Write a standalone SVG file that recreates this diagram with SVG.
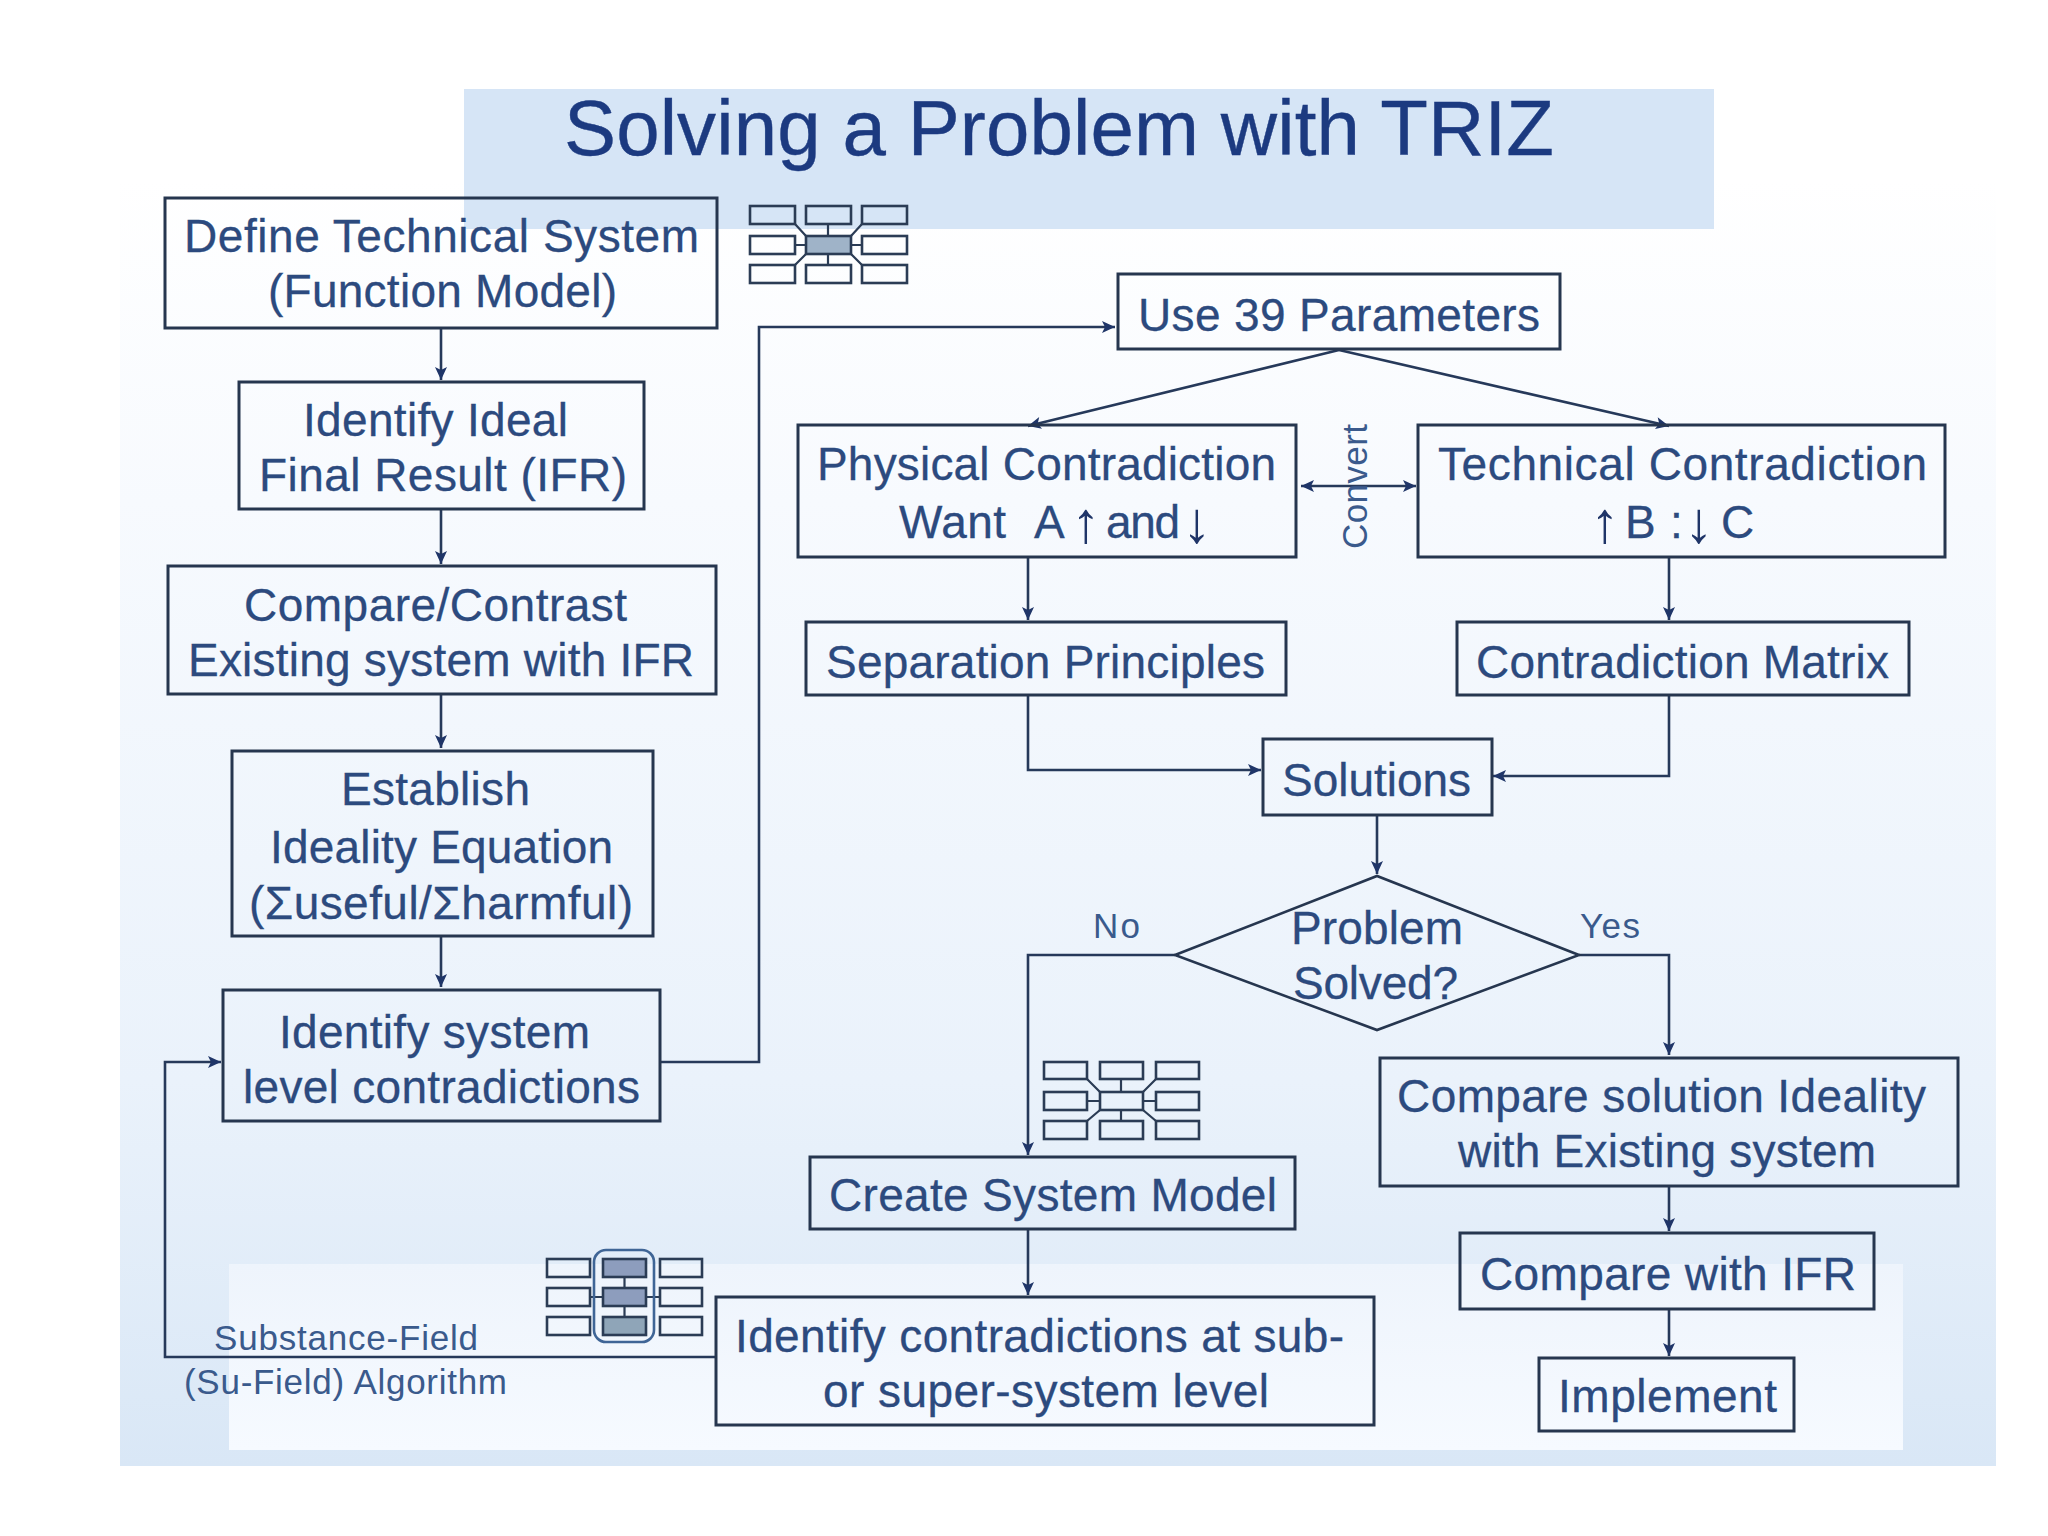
<svg xmlns="http://www.w3.org/2000/svg" width="2048" height="1536" viewBox="0 0 2048 1536">
<style>
.b{fill:none;stroke:#26364f;stroke-width:3}
.c{fill:none;stroke:#26395a;stroke-width:2.6}
.a{marker-end:url(#ah)}
.t{font-family:"Liberation Sans",Arial,sans-serif;font-size:46px;fill:#2c4a7e;stroke:#2c4a7e;stroke-width:.3}
.s{font-family:"Liberation Sans",Arial,sans-serif;font-size:35px;fill:#3a5a8c}
.ar{font-family:"Liberation Sans",Arial,sans-serif;font-size:58px;font-weight:bold;fill:#1f3568;text-anchor:middle}
.i rect{fill:none;stroke:#2b3c55;stroke-width:2.6}
.i path{fill:none;stroke:#2b3c55;stroke-width:2.2}
</style>
<defs>
<linearGradient id="p" x1="0" y1="0" x2="0" y2="1"><stop offset="0" stop-color="#ffffff"/><stop offset=".25" stop-color="#f7fafe"/><stop offset=".7" stop-color="#eaf2fb"/><stop offset="1" stop-color="#d9e7f6"/></linearGradient>
<linearGradient id="q" x1="0" y1="0" x2="0" y2="1"><stop offset="0" stop-color="#eef4fc"/><stop offset="1" stop-color="#f6faff"/></linearGradient>
<marker id="ah" markerUnits="userSpaceOnUse" markerWidth="16" markerHeight="16" refX="14" refY="7" orient="auto"><path d="M1,1 L14,7 L1,13 L4,7 Z" fill="#1f3568"/></marker>
<marker id="as" markerUnits="userSpaceOnUse" markerWidth="16" markerHeight="16" refX="2" refY="7" orient="auto"><path d="M15,1 L2,7 L15,13 L12,7 Z" fill="#1f3568"/></marker>
</defs>
<rect width="2048" height="1536" fill="#ffffff"/>
<rect x="120" y="180" width="1876" height="1286" fill="url(#p)"/>
<rect x="464" y="89" width="1250" height="140" fill="#d6e5f6"/>
<rect x="229" y="1264" width="1674" height="186" fill="url(#q)"/>

<text x="564" y="155" font-family="Liberation Sans,Arial,sans-serif" font-size="78" fill="#1c3a80" stroke="#1c3a80" stroke-width=".4" textLength="990">Solving a Problem with TRIZ</text>

<g id="connectors">
<path class="c a" d="M441,328V380"/>
<path class="c a" d="M441,509V564"/>
<path class="c a" d="M441,694V748"/>
<path class="c a" d="M441,936V987"/>
<path class="c a" d="M660,1062H759V327H1115"/>
<path class="c a" d="M1339,350L1028,426"/>
<path class="c a" d="M1339,350L1669,426"/>
<path class="c a" style="marker-start:url(#as)" d="M1301,486H1416"/>
<path class="c a" d="M1028,558V620"/>
<path class="c a" d="M1669,558V620"/>
<path class="c a" d="M1028,695V770H1261"/>
<path class="c a" d="M1669,695V776H1493"/>
<path class="c a" d="M1377,815V874"/>
<path class="c a" d="M1175,955H1028V1155"/>
<path class="c a" d="M1579,955H1669V1055"/>
<path class="c a" d="M1669,1186V1231"/>
<path class="c a" d="M1669,1309V1356"/>
<path class="c a" d="M1028,1229V1295"/>
<path class="c a" d="M716,1357H165V1062H221"/>
</g>

<g id="n-define"><rect class="b" x="165" y="198" width="552" height="130"/><text class="t" x="184" y="252" textLength="515">Define Technical System</text><text class="t" x="268" y="307" textLength="349">(Function Model)</text></g>
<g id="n-ideal"><rect class="b" x="239" y="382" width="405" height="127"/><text class="t" x="303" y="436" textLength="265">Identify Ideal</text><text class="t" x="259" y="491" textLength="368">Final Result (IFR)</text></g>
<g id="n-compare"><rect class="b" x="168" y="566" width="548" height="128"/><text class="t" x="244" y="621" textLength="383">Compare/Contrast</text><text class="t" x="188" y="676" textLength="506">Existing system with IFR</text></g>
<g id="n-establish"><rect class="b" x="232" y="751" width="421" height="185"/><text class="t" x="341" y="805" textLength="189">Establish</text><text class="t" x="270" y="863" textLength="343">Ideality Equation</text><text class="t" x="249" y="919" textLength="384">(Σuseful/Σharmful)</text></g>
<g id="n-syslevel"><rect class="b" x="223" y="990" width="437" height="131"/><text class="t" x="279" y="1048" textLength="311">Identify system</text><text class="t" x="243" y="1103" textLength="397">level contradictions</text></g>
<g id="n-params"><rect class="b" x="1118" y="274" width="442" height="75"/><text class="t" x="1138" y="331" textLength="402">Use 39 Parameters</text></g>
<g id="n-physical"><rect class="b" x="798" y="425" width="498" height="132"/><text class="t" x="817" y="480" textLength="459">Physical Contradiction</text><text class="t" x="899" y="538" textLength="107">Want</text><text class="t" x="1034" y="538">A</text><text class="ar" x="1086" y="542">↑</text><text class="t" x="1106" y="538" textLength="74">and</text><text class="ar" x="1197" y="542">↓</text></g>
<g id="n-technical"><rect class="b" x="1418" y="425" width="527" height="132"/><text class="t" x="1438" y="480" textLength="489">Technical Contradiction</text><text class="ar" x="1605" y="542">↑</text><text class="t" x="1625" y="538">B</text><text class="t" x="1670" y="538">:</text><text class="ar" x="1699" y="542">↓</text><text class="t" x="1721" y="538">C</text></g>
<g id="n-separation"><rect class="b" x="806" y="622" width="480" height="73"/><text class="t" x="826" y="678" textLength="439">Separation Principles</text></g>
<g id="n-matrix"><rect class="b" x="1457" y="622" width="452" height="73"/><text class="t" x="1476" y="678" textLength="413">Contradiction Matrix</text></g>
<g id="n-solutions"><rect class="b" x="1263" y="739" width="229" height="76"/><text class="t" x="1282" y="796" textLength="189">Solutions</text></g>
<g id="n-solved"><path class="b" d="M1175,955L1377,876L1579,955L1377,1030Z" style="stroke-width:2.6"/><text class="t" x="1291" y="944" textLength="172">Problem</text><text class="t" x="1293" y="999" textLength="165">Solved?</text></g>
<g id="n-ideality"><rect class="b" x="1380" y="1058" width="578" height="128"/><text class="t" x="1397" y="1112" textLength="529">Compare solution Ideality</text><text class="t" x="1458" y="1167" textLength="418">with Existing system</text></g>
<g id="n-ifr"><rect class="b" x="1460" y="1233" width="414" height="76"/><text class="t" x="1480" y="1290" textLength="376">Compare with IFR</text></g>
<g id="n-implement"><rect class="b" x="1539" y="1358" width="255" height="73"/><text class="t" x="1558" y="1412" textLength="219">Implement</text></g>
<g id="n-model"><rect class="b" x="810" y="1157" width="485" height="72"/><text class="t" x="829" y="1211" textLength="448">Create System Model</text></g>
<g id="n-subsuper"><rect class="b" x="716" y="1297" width="658" height="128"/><text class="t" x="735" y="1352" textLength="609">Identify contradictions at sub-</text><text class="t" x="823" y="1407" textLength="446">or super-system level</text></g>

<g id="labels">
<text class="s" x="1093" y="938" textLength="47">No</text>
<text class="s" x="1580" y="938" textLength="60">Yes</text>
<text class="s" x="214" y="1350" textLength="264">Substance-Field</text>
<text class="s" x="184" y="1394" textLength="323">(Su-Field) Algorithm</text>
<text class="s" transform="translate(1367,549) rotate(-90)" textLength="125">Convert</text>
</g>

<g id="icon-1" class="i">
<rect x="750" y="206" width="45" height="18"/><rect x="806" y="206" width="45" height="18"/><rect x="862" y="206" width="45" height="18"/>
<rect x="750" y="236" width="45" height="18"/><rect x="806" y="236" width="45" height="18" style="fill:#9fb3c8"/><rect x="862" y="236" width="45" height="18"/>
<rect x="750" y="265" width="45" height="18"/><rect x="806" y="265" width="45" height="18"/><rect x="862" y="265" width="45" height="18"/>
<path d="M795,224L806,236M828,224V236M862,224L851,236M795,245H806M851,245H862M795,265L806,254M828,254V265M862,265L851,254"/>
</g>
<g id="icon-2" class="i">
<rect x="1044" y="1062" width="43" height="17"/><rect x="1100" y="1062" width="43" height="17"/><rect x="1156" y="1062" width="43" height="17"/>
<rect x="1044" y="1092" width="43" height="18"/><rect x="1100" y="1092" width="43" height="18"/><rect x="1156" y="1092" width="43" height="18"/>
<rect x="1044" y="1121" width="43" height="18"/><rect x="1100" y="1121" width="43" height="18"/><rect x="1156" y="1121" width="43" height="18"/>
<path d="M1087,1079L1100,1092M1121,1079V1092M1156,1079L1143,1092M1087,1101H1100M1143,1101H1156M1087,1121L1100,1110M1121,1110V1121M1156,1121L1143,1110"/>
</g>
<g id="icon-3" class="i">
<rect x="547" y="1259" width="43" height="18"/><rect x="660" y="1259" width="42" height="18"/>
<rect x="547" y="1288" width="43" height="18"/><rect x="660" y="1288" width="42" height="18"/>
<rect x="547" y="1317" width="43" height="18"/><rect x="660" y="1317" width="42" height="18"/>
<rect x="603" y="1259" width="43" height="18" style="fill:#8d9dbd"/><rect x="603" y="1288" width="43" height="18" style="fill:#8d9dbd"/><rect x="603" y="1317" width="43" height="18" style="fill:#8fa5b8"/>
<path d="M624.5,1277V1288M624.5,1306V1317M590,1297H603M646,1297H660"/>
<rect x="594" y="1250" width="60" height="92" rx="12" style="stroke:#3f6596"/>
</g>
</svg>
